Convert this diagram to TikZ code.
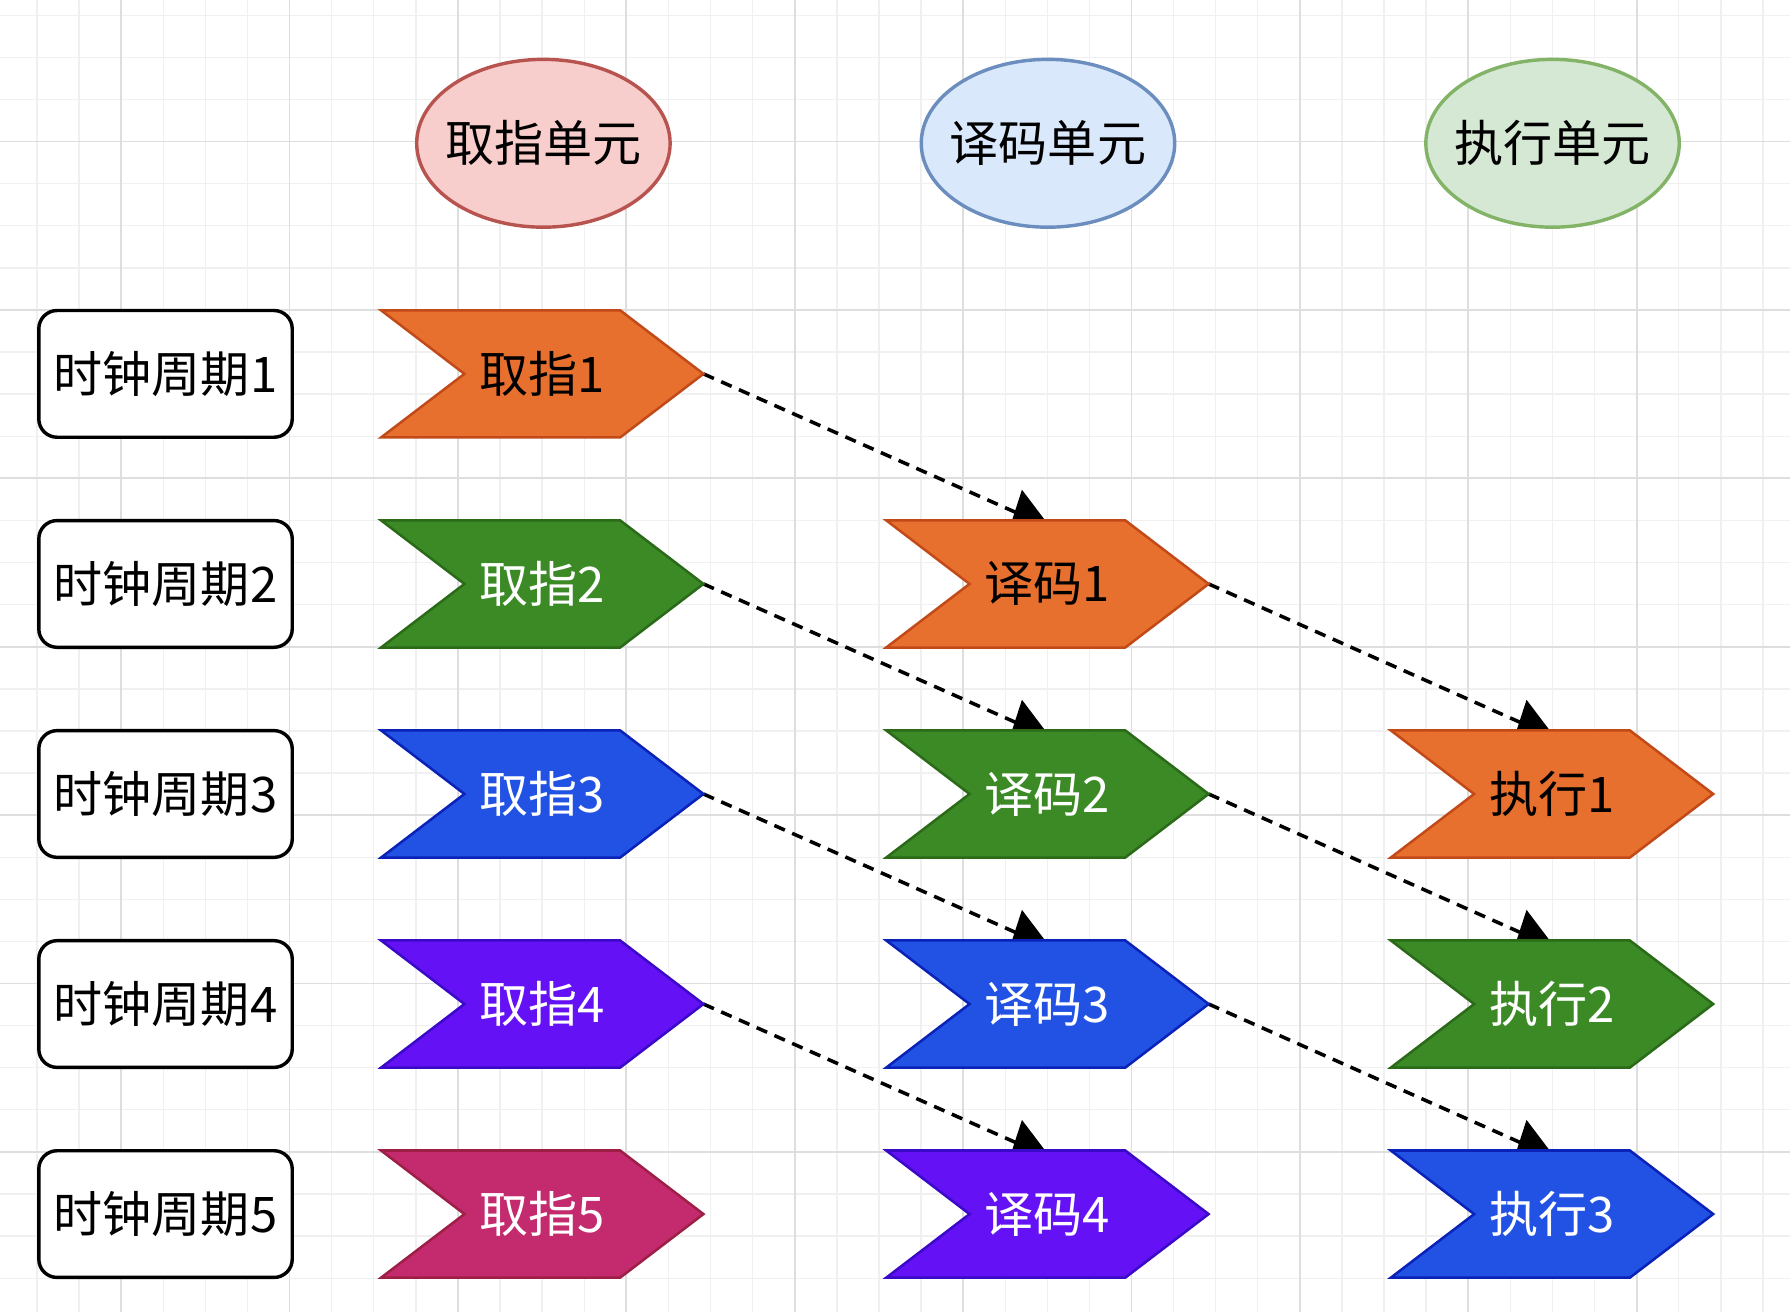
\documentclass[tikz,border=0pt]{standalone}
\usepackage{fontspec}
\setmainfont{Noto Sans CJK SC}
\usetikzlibrary{shapes.geometric}
\pgfdeclarelayer{gridlayer}
\pgfdeclarelayer{edgelayer}
\pgfdeclarelayer{shapelayer}
\pgfsetlayers{gridlayer,edgelayer,shapelayer,main}
\definecolor{gridminor}{HTML}{F0F0F0}
\definecolor{gridmajor}{HTML}{DEDEDE}
\definecolor{orfill}{HTML}{E8702E}
\definecolor{ordraw}{HTML}{C24A18}
\definecolor{grfill}{HTML}{3B8A26}
\definecolor{grdraw}{HTML}{2A6A18}
\definecolor{blfill}{HTML}{2152E4}
\definecolor{bldraw}{HTML}{0A22B8}
\definecolor{pufill}{HTML}{6411F5}
\definecolor{pudraw}{HTML}{3A0AC8}
\definecolor{pkfill}{HTML}{C42A6E}
\definecolor{pkdraw}{HTML}{9E1F46}
\definecolor{e1fill}{HTML}{F8CECC}
\definecolor{e1draw}{HTML}{B85450}
\definecolor{e2fill}{HTML}{DAE8FC}
\definecolor{e2draw}{HTML}{6C8EBF}
\definecolor{e3fill}{HTML}{D5E8D4}
\definecolor{e3draw}{HTML}{82B366}
\tikzset{
  bigfont/.style={font=\fontsize{43}{50}\selectfont},
  unitbox/.style={ellipse, minimum width=222pt, minimum height=147pt, inner sep=0pt, line width=3pt},
  unitlabel/.style={bigfont, inner sep=0pt},
  clockbox/.style={rectangle, rounded corners=16pt, draw=black, fill=white, line width=3pt, bigfont, minimum width=222pt, minimum height=111pt, inner sep=0pt},
  chevbox/.style={rectangle, bigfont, minimum width=282pt, minimum height=111pt, inner sep=0pt},
  dashedge/.style={draw=black, line width=3.1pt, dash pattern=on 10pt off 7pt}
}
\newcommand{\chevshape}[3]{%
  \begin{pgfonlayer}{shapelayer}
  \filldraw[fill=#2, draw=#3, line width=2.2pt, line join=miter]
    (#1.north west) -- ([xshift=-73pt]#1.north east) -- (#1.east)
    -- ([xshift=-73pt]#1.south east) -- (#1.south west)
    -- ([xshift=73pt]#1.west) -- cycle;
  \end{pgfonlayer}}
\newcommand{\pipeedge}[2]{%
  \begin{pgfonlayer}{edgelayer}
  \draw[dashedge] (#1.east) -- ([xshift=-12pt]#2.north);
  \fill[black] ([xshift=-31pt]#2.north) -- ([xshift=-22.3pt,yshift=26.8pt]#2.north)
    -- ([xshift=-2pt]#2.north) -- cycle;
  \end{pgfonlayer}}
\begin{document}
\begin{tikzpicture}[x=1pt,y=-1pt]
\useasboundingbox (0,0) rectangle (1568,1149);
\begin{pgfonlayer}{gridlayer}
  \fill[white] (0,0) rectangle (1568,1149);
  \foreach \i in {0,...,41} {\draw[gridminor, line width=1.2pt] ({32.4+\i*36.875},0) -- ({32.4+\i*36.875},1149);}
  \foreach \j in {0,...,30} {\draw[gridminor, line width=1.2pt] (0,{13.4+\j*36.875}) -- (1568,{13.4+\j*36.875});}
  \foreach \i in {0,...,9} {\draw[gridmajor, line width=1.5pt] ({106.15+\i*147.5},0) -- ({106.15+\i*147.5},1149);}
  \foreach \j in {0,...,6} {\draw[gridmajor, line width=1.5pt] (0,{124+\j*147.5}) -- (1568,{124+\j*147.5});}
\end{pgfonlayer}

% unit ellipses
\node[unitbox, fill=e1fill, draw=e1draw] (u1) at (476,125.5) {};
\node[unitbox, fill=e2fill, draw=e2draw] (u2) at (918,125.5) {};
\node[unitbox, fill=e3fill, draw=e3draw] (u3) at (1360,125.5) {};
\node[unitlabel] (t1) at (u1) {取指单元};
\node[unitlabel] (t2) at (u2) {译码单元};
\node[unitlabel] (t3) at (u3) {执行单元};

% clock cycles
\node[clockbox] (c1) at (145,327.5) {时钟周期1};
\node[clockbox] (c2) at (145,511.5) {时钟周期2};
\node[clockbox] (c3) at (145,695.5) {时钟周期3};
\node[clockbox] (c4) at (145,879.5) {时钟周期4};
\node[clockbox] (c5) at (145,1063.5) {时钟周期5};

% fetch column
\node[chevbox, text=black] (f1) at (475,327.5) {取指1};
\node[chevbox, text=white] (f2) at (475,511.5) {取指2};
\node[chevbox, text=white] (f3) at (475,695.5) {取指3};
\node[chevbox, text=white] (f4) at (475,879.5) {取指4};
\node[chevbox, text=white] (f5) at (475,1063.5) {取指5};
% decode column
\node[chevbox, text=black] (d1) at (917.5,511.5) {译码1};
\node[chevbox, text=white] (d2) at (917.5,695.5) {译码2};
\node[chevbox, text=white] (d3) at (917.5,879.5) {译码3};
\node[chevbox, text=white] (d4) at (917.5,1063.5) {译码4};
% execute column
\node[chevbox, text=black] (x1) at (1359.5,695.5) {执行1};
\node[chevbox, text=white] (x2) at (1359.5,879.5) {执行2};
\node[chevbox, text=white] (x3) at (1359.5,1063.5) {执行3};

\chevshape{f1}{orfill}{ordraw}
\chevshape{f2}{grfill}{grdraw}
\chevshape{f3}{blfill}{bldraw}
\chevshape{f4}{pufill}{pudraw}
\chevshape{f5}{pkfill}{pkdraw}
\chevshape{d1}{orfill}{ordraw}
\chevshape{d2}{grfill}{grdraw}
\chevshape{d3}{blfill}{bldraw}
\chevshape{d4}{pufill}{pudraw}
\chevshape{x1}{orfill}{ordraw}
\chevshape{x2}{grfill}{grdraw}
\chevshape{x3}{blfill}{bldraw}

\pipeedge{f1}{d1}
\pipeedge{f2}{d2}
\pipeedge{f3}{d3}
\pipeedge{f4}{d4}
\pipeedge{d1}{x1}
\pipeedge{d2}{x2}
\pipeedge{d3}{x3}
\end{tikzpicture}
\end{document}
